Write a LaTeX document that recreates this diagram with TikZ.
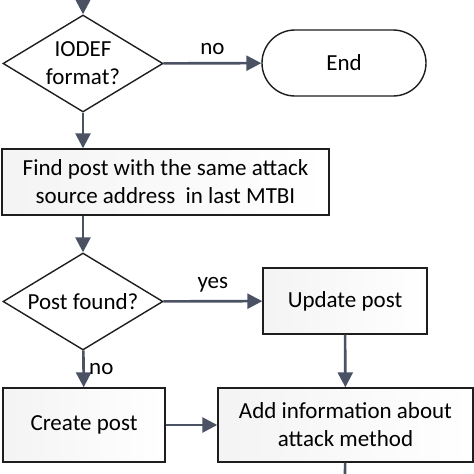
\documentclass[tikz,border=0pt]{standalone}
\usepackage{fontspec}
\setmainfont{Carlito}
\usetikzlibrary{shapes.geometric,arrows.meta}
\definecolor{linegray}{RGB}{75, 82, 100}
\definecolor{boxedge}{RGB}{30, 30, 30}

\begin{document}
\begin{tikzpicture}[x=1pt,y=-1pt,
    font=\fontsize{23}{28}\selectfont,
    box/.style={draw=boxedge, line width=1.4pt, left color=gray!9, right color=white, align=center, inner sep=0pt},
    decision/.style={draw=boxedge, line width=1.4pt, diamond, fill=white, inner sep=-12pt, align=center, minimum width=160pt, minimum height=97pt},
    flow/.style={draw=linegray, line width=2.6pt, -{Triangle[length=15pt,width=15pt]}}]
    \useasboundingbox (0,0) rectangle (474,474);
    \coordinate (start) at (83,0);
    \coordinate (exit) at (345,474);
    \node[decision] (iodef) at (83,63.5) {IODEF\\format?};
    \node[draw=boxedge, line width=1.4pt, rounded corners=33pt, fill=white, minimum width=164pt, minimum height=66pt] (end) at (344,63) {End};
    \node[box, minimum width=327pt, minimum height=66pt] (find) at (165.5,182) {Find post with the same attack\\source address\ \ in last MTBI};
    \node[decision] (found) at (83,301.5) {Post found?};
    \node[box, minimum width=164pt, minimum height=66pt] (update) at (345,301) {Update post};
    \node[box, minimum width=162pt, minimum height=74pt] (create) at (84,425) {Create post};
    \node[box, minimum width=255pt, minimum height=74pt] (addinfo) at (345.5,425) {Add information about\\attack method};
    \draw[flow] (start) -- (iodef);
    \draw[flow] (iodef) -- node[above=4pt] {no} (end);
    \draw[flow] (iodef) -- (iodef |- find.north);
    \draw[flow] (find.south -| found) -- (found);
    \draw[flow] (found) -- node[above=4pt] {yes} (update);
    \draw[flow] (found) -- node[right=1pt] {no} (create);
    \draw[flow] (update) -- (addinfo);
    \draw[flow] (create) -- (addinfo);
    \draw[draw=linegray, line width=2.6pt] (addinfo) -- (exit);
\end{tikzpicture}
\end{document}
